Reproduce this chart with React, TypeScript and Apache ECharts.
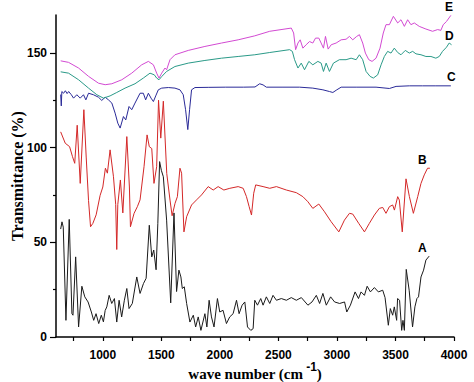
import React, { useEffect, useRef } from "react";
import * as echarts from "echarts";

const xLabelValues = [1000, 1500, 2000, 2500, 3000, 3500, 4000];
const xTickValues = [750, 1000, 1250, 1500, 1750, 2000, 2250, 2500, 2750, 3000, 3250, 3500, 3750, 4000];
const yLabelValues = [0, 50, 100, 150];
const yMinorValues = [25, 75, 125];

const seriesNames = ["A", "B", "C", "D", "E"];
const seriesColors = ["#1a1a1a", "#d42828", "#2a2a98", "#2a9a88", "#d24ad2"];

const dataA: number[][] = [
  [640, 57], [651, 60.8], [662, 58], [685, 8.8], [713, 62.1], [736, 12.3], [745, 11.5], [768, 42.3], [793, 5.3],
  [821, 26.8], [846, 21.2], [874, 18.5], [902, 13.2], [922, 8.8], [942, 12.3], [965, 7.1], [987, 11.5], [1005, 8],
  [1020, 14], [1034, 15.9], [1054, 22], [1076, 17.7], [1099, 20.3], [1119, 7.9], [1139, 19.4], [1161, 10.6],
  [1184, 19.4], [1205, 25.6], [1224, 15], [1252, 17.7], [1290, 31.7], [1318, 23], [1347, 28.2], [1370, 31],
  [1397, 59], [1418, 42.3], [1435, 45.9], [1455, 35.5], [1470, 60], [1485, 92.6], [1500, 88], [1517, 84.6],
  [1545, 61.7], [1580, 18], [1608, 65.5], [1630, 24], [1650, 35.3], [1667, 31.7], [1679, 25.6], [1696, 26.5],
  [1716, 17.7], [1744, 7.9], [1773, 11.5], [1793, 5.3], [1815, 10.6], [1838, 3.5], [1872, 12.3], [1889, 5.3],
  [1908, 19.4], [1928, 10.6], [1950, 5.3], [1979, 20.3], [1999, 13.2], [2027, 14.1], [2056, 7.1], [2084, 10.6],
  [2113, 12.3], [2142, 19.4], [2164, 12.3], [2190, 16.8], [2213, 18.5], [2236, 5.3], [2264, 3.5], [2284, 4.4],
  [2298, 19.4], [2321, 16.8], [2349, 20.3], [2369, 16.8], [2397, 21.2], [2426, 17.7], [2454, 22], [2483, 19.4],
  [2525, 20.3], [2568, 19.4], [2610, 20.8], [2653, 19.4], [2696, 20.8], [2752, 16.8], [2787, 18.5], [2824, 22],
  [2852, 17.7], [2880, 23], [2909, 16.8], [2946, 21.2], [2980, 18.5], [3023, 17.7], [3065, 18.5], [3084, 13.2],
  [3115, 16.8], [3155, 23.8], [3184, 20.3], [3206, 23.8], [3235, 22], [3258, 26.8], [3286, 23.8], [3320, 26.1],
  [3354, 23.8], [3391, 24.7], [3411, 20.8], [3439, 6.2], [3456, 15], [3476, 11.5], [3490, 15.9], [3510, 8.8],
  [3518, 20.3], [3535, 19.4], [3553, 3.5], [3564, 8.8], [3576, 3.5], [3592, 35.7], [3617, 24.7], [3646, 5.3],
  [3666, 15.9], [3683, 20.3], [3697, 21.2], [3718, 31.7], [3740, 35.3], [3760, 40.6], [3788, 42.7],
];

const dataB: number[][] = [
  [640, 108.3], [679, 102.3], [716, 100.5], [741, 95.2], [760, 91.7], [781, 111.8], [807, 81.1], [838, 120],
  [858, 95], [878, 72], [895, 58.2], [915, 60], [943, 64.5], [977, 74.8], [1000, 79.2], [1022, 89.1], [1039, 86.5],
  [1062, 98.8], [1091, 84.6], [1110, 70], [1119, 46.2], [1128, 70], [1150, 82.9], [1171, 65.5], [1205, 105.8],
  [1227, 79.2], [1236, 58.2], [1267, 65.3], [1295, 68.8], [1318, 72.4], [1352, 89.9], [1378, 106.7], [1397, 100.5],
  [1418, 99.5], [1437, 81.1], [1460, 89.9], [1476, 125], [1495, 105], [1517, 124.5], [1546, 86.4], [1574, 72.3],
  [1592, 64], [1617, 70.6], [1637, 74.1], [1659, 89.1], [1673, 86.5], [1693, 55.5], [1716, 63.5], [1758, 69.7],
  [1801, 72.4], [1843, 75], [1900, 79.4], [1943, 77.6], [1985, 79.4], [2034, 77.6], [2085, 78.5], [2156, 79.4],
  [2199, 78.5], [2227, 74.1], [2250, 68.8], [2270, 64.4], [2289, 75.9], [2306, 80.3], [2369, 79.4], [2426, 78.5],
  [2483, 79.4], [2568, 77.6], [2653, 76.2], [2709, 74.1], [2752, 71.4], [2794, 67.9], [2845, 70.2], [2894, 66.1],
  [2950, 60.9], [3016, 55.5], [3064, 61.7], [3107, 65.3], [3135, 64.9], [3186, 60], [3235, 55.5], [3277, 60],
  [3320, 64.4], [3362, 67.9], [3391, 68.4], [3419, 65.3], [3448, 68.8], [3476, 69.7], [3491, 67], [3519, 74.1],
  [3533, 72.3], [3558, 55.5], [3590, 83.5], [3619, 74.1], [3653, 65.3], [3690, 74.1], [3718, 81.1], [3746, 85.6],
  [3774, 89.1], [3794, 89.1],
];

const dataC: number[][] = [
  [640, 128], [645, 122], [650, 129.6], [665, 128.7], [680, 130], [695, 128.5], [708, 129.6], [730, 128],
  [750, 126.1], [778, 127.9], [807, 126.1], [835, 127.9], [855, 125.2], [878, 128.7], [920, 127.9], [963, 126.6],
  [991, 124.9], [1020, 126.6], [1048, 125.2], [1077, 123.5], [1105, 118.2], [1128, 112.9], [1148, 110.3],
  [1176, 116.4], [1196, 114.6], [1224, 121.7], [1247, 120], [1275, 123.5], [1318, 128.7], [1346, 128.7],
  [1366, 125.2], [1389, 128.7], [1412, 126.1], [1432, 124.3], [1452, 127.3], [1474, 130.5], [1503, 131.4],
  [1560, 131.7], [1616, 131.4], [1659, 130.5], [1687, 127.9], [1707, 120], [1726, 109.5], [1741, 120],
  [1758, 130.5], [1787, 131.7], [1900, 131.8], [2050, 131.9], [2200, 131.9], [2300, 132], [2340, 133.7],
  [2369, 133.1], [2397, 131.9], [2539, 131.9], [2681, 131.9], [2794, 131.4], [2880, 130.5], [2936, 129.6],
  [2965, 129.1], [2999, 130.5], [3036, 131.9], [3164, 131.9], [3334, 131.9], [3448, 131.2], [3505, 132.3],
  [3618, 132.6], [3732, 132.6], [3845, 132.6], [3973, 132.6],
];

const dataD: number[][] = [
  [640, 140], [707, 139.3], [793, 135.8], [878, 131.4], [949, 127.9], [1005, 126.1], [1062, 127.3], [1119, 129.1],
  [1190, 131.4], [1275, 133.7], [1346, 136.7], [1403, 139.3], [1440, 138.4], [1460, 136.7], [1480, 135.8],
  [1503, 137.5], [1545, 140.2], [1616, 142.8], [1730, 144.6], [1872, 146], [2014, 147.2], [2156, 148.1],
  [2298, 149], [2426, 150.2], [2596, 151.7], [2619, 150.8], [2638, 146.4], [2667, 142], [2695, 144.6],
  [2723, 141.1], [2760, 145.5], [2794, 143.7], [2837, 145.5], [2865, 144.6], [2885, 140.2], [2908, 144.6],
  [2936, 140.2], [2970, 144.6], [3021, 146.4], [3078, 146.4], [3121, 147.2], [3164, 146.4], [3192, 149],
  [3220, 146.4], [3249, 140.2], [3283, 137.6], [3311, 136.7], [3348, 138.4], [3377, 143.7], [3405, 148.1],
  [3433, 150.8], [3462, 149.9], [3490, 152.5], [3519, 150.2], [3547, 149], [3584, 151.3], [3618, 149.9],
  [3647, 150.8], [3675, 149.5], [3718, 149], [3760, 148.1], [3803, 148.1], [3845, 147.2], [3874, 148.1],
  [3902, 150.8], [3936, 153], [3959, 155.2], [3979, 154.3],
];

const dataE: number[][] = [
  [640, 145.8], [707, 145], [793, 142], [878, 137.6], [963, 134], [1020, 133.2], [1077, 133.7], [1162, 135.8],
  [1247, 139.3], [1332, 143.7], [1389, 145.5], [1432, 143.7], [1460, 139.3], [1480, 136.7], [1503, 139.3],
  [1531, 142], [1545, 141.1], [1574, 146.4], [1616, 149], [1730, 151.3], [1872, 153.4], [2014, 155.2],
  [2156, 156.9], [2298, 159], [2426, 161.4], [2610, 163.1], [2630, 160.5], [2647, 151.7], [2667, 155.2],
  [2686, 156.9], [2709, 152.5], [2737, 154.3], [2766, 156], [2794, 155.2], [2817, 157.8], [2845, 157.8],
  [2865, 155.2], [2885, 152.5], [2902, 158.7], [2925, 152], [2951, 154.3], [2993, 155.2], [3036, 156.9],
  [3078, 157.2], [3107, 158.7], [3135, 156.9], [3169, 158.7], [3192, 159.6], [3220, 155.2], [3243, 149.9],
  [3272, 146.4], [3300, 145.5], [3334, 147.2], [3368, 152.5], [3396, 160.5], [3419, 164.9], [3448, 164.9],
  [3482, 169.3], [3519, 165.8], [3547, 167.5], [3576, 164], [3604, 167.5], [3632, 164.9], [3661, 165.8],
  [3703, 164], [3760, 162.6], [3817, 161.4], [3860, 162.3], [3888, 161.9], [3908, 164.9], [3936, 166.6],
  [3973, 169.8],
];

const allData = [dataA, dataB, dataC, dataD, dataE];

export default function App() {
  const ref = useRef<HTMLDivElement>(null);
  useEffect(() => {
    if (!ref.current) return;
    const chart = echarts.init(ref.current, null, { renderer: "svg" });
    const labelPos = [
      { left: 418, top: 242 },
      { left: 418, top: 154 },
      { left: 447, top: 71 },
      { left: 445, top: 30 },
      { left: 445, top: 1 },
    ];
    chart.setOption({
      animation: false,
      backgroundColor: "#ffffff",
      grid: { left: 56, right: 20, top: 15, bottom: 45, containLabel: false, outerBoundsMode: "none" },
      xAxis: {
        type: "value",
        min: 600,
        max: 4000,
        splitLine: { show: false },
        axisLine: { show: true, lineStyle: { color: "#000", width: 1.5 } },
        axisTick: { show: true, length: 4, customValues: xTickValues, lineStyle: { color: "#000", width: 1.2 } },
        axisLabel: {
          customValues: xLabelValues,
          formatter: (v: number) => String(v),
          margin: 12,
          color: "#000",
          fontFamily: "Liberation Sans, Arial, sans-serif",
          fontWeight: "bold",
          fontSize: 12,
        },
        name: "{a|wave number (cm}{s|-1}{a|)}",
        nameLocation: "middle",
        nameGap: 24,
        nameMoveOverlap: false,
        nameTextStyle: {
          rich: {
            a: { fontFamily: "Liberation Serif, Times New Roman, serif", fontWeight: "bold", fontSize: 15, color: "#000", verticalAlign: "bottom" },
            s: { fontFamily: "Liberation Sans, Arial, sans-serif", fontWeight: "bold", fontSize: 12, color: "#000", verticalAlign: "top", padding: [0, 0, 8, 3] },
          },
        },
      },
      yAxis: [
        {
          type: "value",
          min: 0,
          max: 170,
          splitLine: { show: false },
          axisLine: { show: true, lineStyle: { color: "#000", width: 1.5 } },
          axisTick: { show: true, length: 6, customValues: yLabelValues, lineStyle: { color: "#000", width: 1.2 } },
          axisLabel: {
            customValues: yLabelValues,
            formatter: (v: number) => String(v),
            margin: 9,
            color: "#000",
            fontFamily: "Liberation Sans, Arial, sans-serif",
            fontWeight: "bold",
            fontSize: 12,
          },
          name: "Transmittance (%)",
          nameLocation: "middle",
          nameGap: 31,
          nameMoveOverlap: false,
          nameTextStyle: {
            fontFamily: "Liberation Serif, Times New Roman, serif",
            fontWeight: "bold",
            fontSize: 16,
            color: "#000",
          },
        },
        {
          type: "value",
          min: 0,
          max: 170,
          position: "left",
          splitLine: { show: false },
          axisLine: { show: false },
          axisTick: { show: true, length: 3, customValues: yMinorValues, lineStyle: { color: "#000", width: 1.2 } },
          axisLabel: { show: false },
        },
      ],
      series: allData.map((d, i) => ({
        name: seriesNames[i],
        type: "line",
        data: d,
        yAxisIndex: 0,
        symbol: "none",
        smooth: false,
        lineStyle: { color: seriesColors[i], width: 1 },
        z: 2,
      })),
      graphic: seriesNames.map((n, i) => ({
        type: "text",
        left: labelPos[i].left,
        top: labelPos[i].top,
        style: {
          text: n,
          fill: "#000",
          font: "bold 12px Liberation Sans, Arial, sans-serif",
        },
      })),
    });
    return () => chart.dispose();
  }, []);
  return <div ref={ref} style={{ width: 474, height: 382, position: "absolute", left: 0, top: 0 }} />;
}
